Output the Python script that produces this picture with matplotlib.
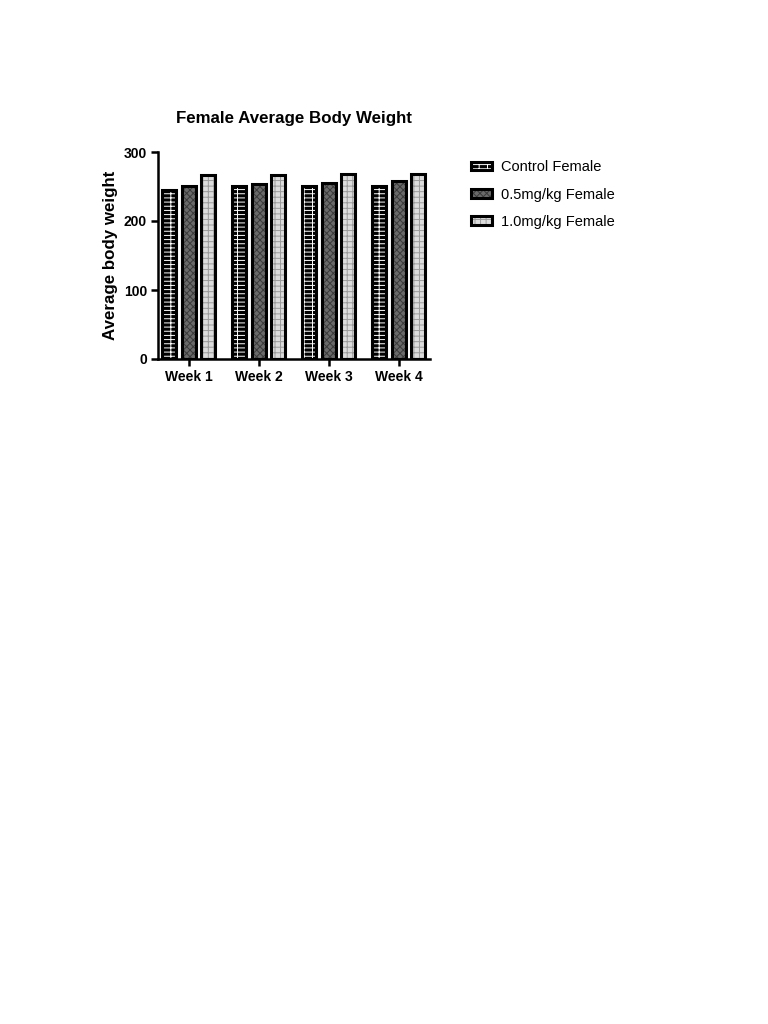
import numpy as np
import matplotlib
matplotlib.use('Agg')
import matplotlib.pyplot as plt

weeks = ['Week 1', 'Week 2', 'Week 3', 'Week 4']
series = ['Control Female', '0.5mg/kg Female', '1.0mg/kg Female']
control = [245, 250, 250, 250]
dose_05 = [250, 253, 255, 258]
dose_10 = [266, 266, 268, 268]

plt.rcParams['font.family'] = ['Liberation Sans', 'DejaVu Sans']
plt.rcParams['hatch.linewidth'] = 0.7

fig = plt.figure(figsize=(7.68, 10.24), dpi=100)
ax = fig.add_axes([158/768, 1 - 359/1024, 272/768, 207/1024])

x = np.arange(len(weeks))
width = 0.2
step = 0.28
styles = [
    dict(facecolor='black', edgecolor='white', hatch='||----'),
    dict(facecolor='#6a6a6a', edgecolor='#3a3a3a', hatch='xxxxx'),
    dict(facecolor='#dcdcdc', edgecolor='#9a9a9a', hatch='+++'),
]
handles = []
for i, vals in enumerate([control, dose_05, dose_10]):
    pos = x + (i - 1) * step
    fill = ax.bar(pos, vals, width, linewidth=0, **styles[i])
    edge = ax.bar(pos, vals, width, fill=False, edgecolor='black', linewidth=2.2)
    handles.append((fill[0], edge[0]))

ax.set_xlim(-0.44, 3.45)
ax.set_ylim(0, 300)
ax.set_yticks([0, 100, 200, 300])
ax.set_xticks(x)
ax.set_xticklabels(weeks, fontweight='bold', fontsize=10)
for lab in ax.get_yticklabels():
    lab.set_fontweight('bold')
    lab.set_fontsize(10)
ax.spines['top'].set_visible(False)
ax.spines['right'].set_visible(False)
ax.spines['left'].set_linewidth(1.8)
ax.spines['bottom'].set_linewidth(1.8)
ax.tick_params(axis='both', width=1.8, length=5, pad=3)

ax.set_title('Female Average Body Weight', fontweight='bold', fontsize=12.2, pad=21)
ax.set_ylabel('Average body weight', fontweight='bold', fontsize=12.2, labelpad=4)

fig.legend(handles, series, loc='upper left', bbox_to_anchor=(458/768, 1 - 147/1024),
           frameon=False, fontsize=10.5, handlelength=1.4, handleheight=0.55,
           handletextpad=0.65, labelspacing=0.92)

fig.savefig('out.png', dpi=100)
